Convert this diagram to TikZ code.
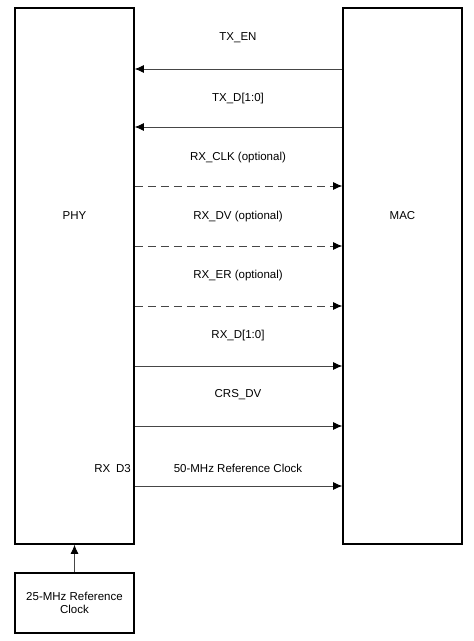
\documentclass[tikz,border=0pt]{standalone}
\usepackage{fontspec}
\setmainfont{Liberation Sans}
\usetikzlibrary{positioning,arrows.meta}
\definecolor{wire}{RGB}{70,70,70}

\begin{document}
\begin{tikzpicture}[
  x=1pt, y=-1pt,
  font=\fontsize{11.5}{13.5}\selectfont,
  blk/.style={rectangle, draw=black, line width=1.6pt, fill=white,
              minimum width=119pt, align=center, inner sep=0pt},
  sig/.style={draw=wire, line width=0.8pt, -{Latex[length=9pt,width=8pt,black]}},
  opt/.style={sig, dash pattern=on 8pt off 5pt},
  lbl/.style={inner sep=0pt}
]
  \useasboundingbox (0,0) rectangle (474,641);

  \node[blk, minimum height=536pt] (phy) at (74.5,276) {};
  \node[blk, minimum height=536pt] (mac) at (402.5,276) {};
  \node[blk, minimum height=60pt] (refclk) at (74.5,603) {25-MHz Reference\\Clock};

  \node[lbl] (phylbl) at (74.5,216) {PHY};
  \node[lbl] (maclbl) at (402.5,216) {MAC};

  \foreach \name/\y in {txen/69, txd/127, rxclk/186, rxdv/246, rxer/306, rxd/366, crsdv/426, ref/486}
    \coordinate (\name) at (238,\y);

  \node[lbl] (ltxen)  at (238,38)  {TX\_EN};
  \node[lbl] (ltxd)   at (238,99)  {TX\_D[1:0]};
  \node[lbl] (lrxclk) at (238,158) {RX\_CLK (optional)};
  \node[lbl] (lrxdv)  at (238,217) {RX\_DV (optional)};
  \node[lbl] (lrxer)  at (238,276) {RX\_ER (optional)};
  \node[lbl] (lrxd)   at (238,336) {RX\_D[1:0]};
  \node[lbl] (lcrsdv) at (238,395) {CRS\_DV};
  \node[lbl] (lref)   at (238,468) {50-MHz Reference Clock};
  \node[lbl, anchor=east] (lrxd3) at (131,469) {RX\enspace D3};

  \draw[sig] (mac.west |- txen) -- (phy.east |- txen);
  \draw[sig] (mac.west |- txd) -- (phy.east |- txd);
  \draw[opt] (phy.east |- rxclk) -- (mac.west |- rxclk);
  \draw[opt] (phy.east |- rxdv) -- (mac.west |- rxdv);
  \draw[opt] (phy.east |- rxer) -- (mac.west |- rxer);
  \draw[sig] (phy.east |- rxd) -- (mac.west |- rxd);
  \draw[sig] (phy.east |- crsdv) -- (mac.west |- crsdv);
  \draw[sig] (phy.east |- ref) -- (mac.west |- ref);

  \draw[sig] (refclk.north) -- (phy.south);
\end{tikzpicture}
\end{document}
